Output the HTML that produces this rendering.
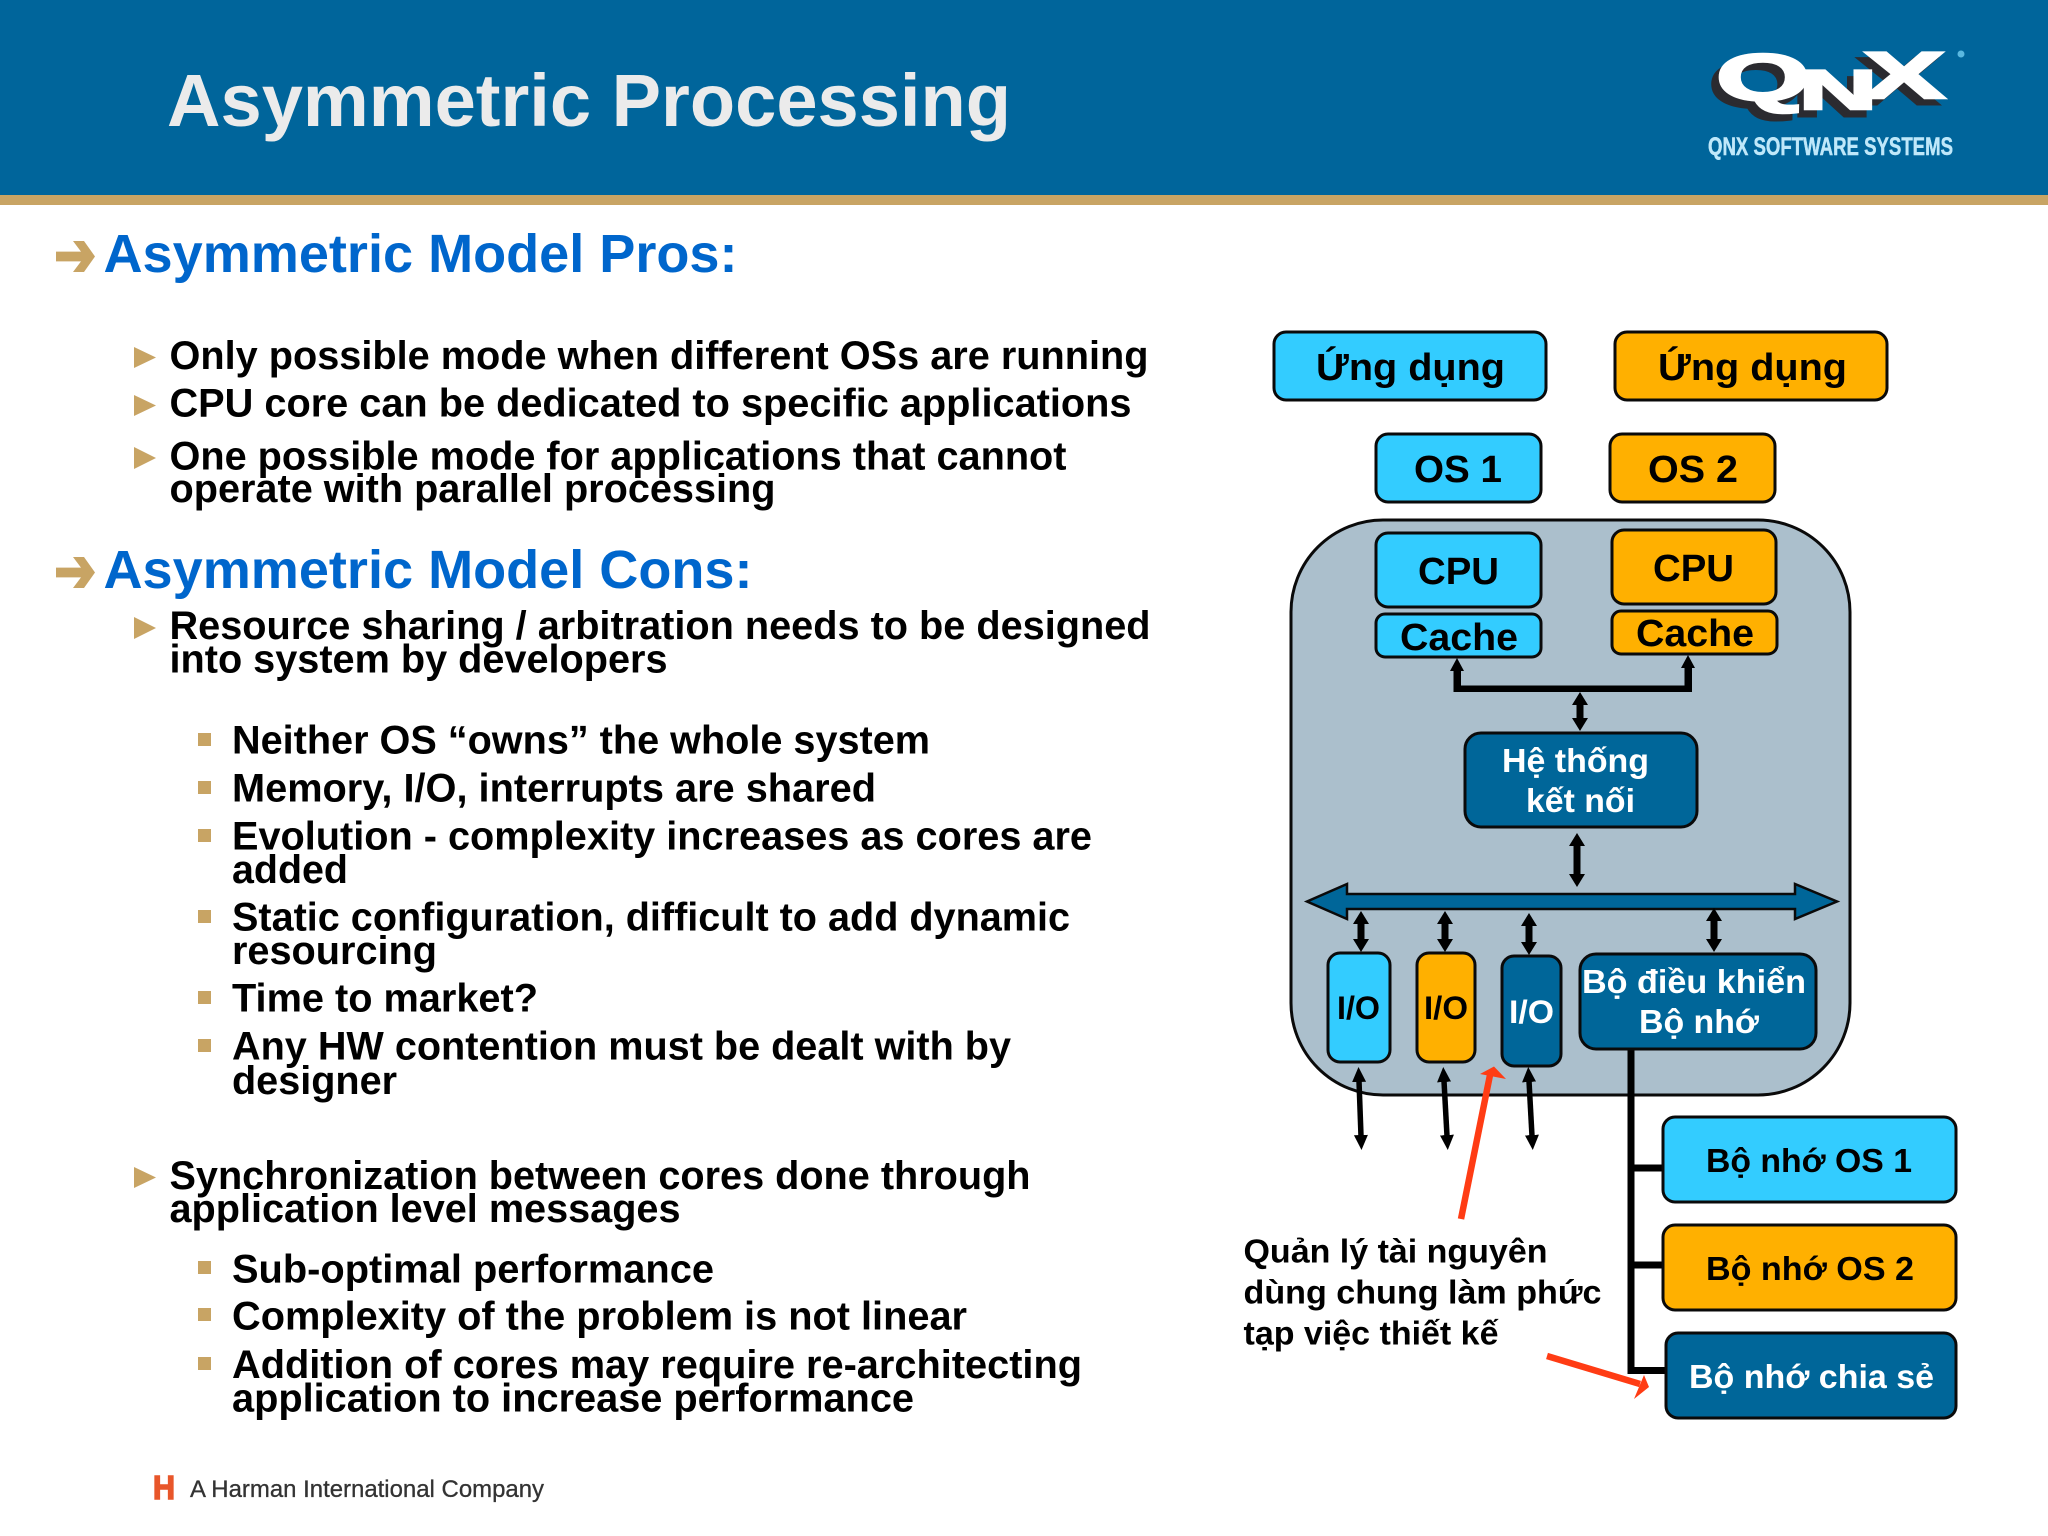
<!DOCTYPE html>
<html lang="en">
<head>
<meta charset="utf-8">
<title>Asymmetric Processing</title>
<style>
html,body{margin:0;padding:0;background:#fff;width:2048px;height:1536px;overflow:hidden}
svg{display:block}
text{font-family:"Liberation Sans","Noto Sans CJK SC",sans-serif;font-weight:bold}
.b{font-size:39.6px;fill:#000}
.h{font-size:53.5px;fill:#0066cc}
.d{font-size:38px;fill:#000}
.w{font-size:33.7px;fill:#fff}
.k{font-size:33.7px;fill:#000}
.box{stroke:#0a0a0a;stroke-width:3}
.cy{fill:#33ccff}.or{fill:#ffb000}.dk{fill:#006699}
.gold{fill:#c8a464}
.ln{stroke:#000;stroke-width:7;fill:none;marker-start:url(#ah);marker-end:url(#ah)}
.lo{stroke:#000;stroke-width:5.5;fill:none;marker-start:url(#ah2);marker-end:url(#ah2)}
</style>
</head>
<body>
<svg xmlns="http://www.w3.org/2000/svg" width="2048" height="1536" viewBox="0 0 2048 1536">
<defs>
<marker id="ah" markerUnits="userSpaceOnUse" markerWidth="13" markerHeight="16" refX="1" refY="8" orient="auto-start-reverse"><path d="M0,0L13,8L0,16z" fill="#000"/></marker>
<marker id="ah2" markerUnits="userSpaceOnUse" markerWidth="15" markerHeight="14" refX="1" refY="7" orient="auto-start-reverse"><path d="M0,0L15,7L0,14z" fill="#000"/></marker>
<symbol id="garrow" viewBox="0 0 39 32" preserveAspectRatio="none"><path d="M17,0H28L39,16L28,32H17L25,21H0V11H25z" fill="#c8a464"/></symbol>
</defs>

<!-- header -->
<rect x="0" y="0" width="2048" height="195" fill="#00659b"/>
<rect x="0" y="195" width="2048" height="10" fill="#c8a464"/>
<text x="167" y="126" font-size="74" fill="#ebebeb" textLength="844" lengthAdjust="spacingAndGlyphs">Asymmetric Processing</text>

<!-- logo -->
<g stroke="#2b2b30" stroke-width="3">
<text x="1709" y="107" font-size="66" fill="#2b2b30" textLength="94" lengthAdjust="spacingAndGlyphs">Q</text>
<text x="1793" y="116" font-size="56" fill="#2b2b30" textLength="78" lengthAdjust="spacingAndGlyphs">N</text>
<text x="1856" y="104" font-size="66" fill="#2b2b30" textLength="82" lengthAdjust="spacingAndGlyphs">X</text>
</g>
<g stroke="#fff" stroke-width="2.5">
<text x="1716" y="100" font-size="66" fill="#fff" textLength="94" lengthAdjust="spacingAndGlyphs">Q</text>
<text x="1799" y="109" font-size="56" fill="#fff" textLength="78" lengthAdjust="spacingAndGlyphs">N</text>
<text x="1863" y="98" font-size="66" fill="#fff" textLength="82" lengthAdjust="spacingAndGlyphs">X</text>
</g>
<circle cx="1961" cy="54" r="3.5" fill="#5ab8e0"/>
<text x="1708" y="155" font-size="25" fill="#bfe8fa" stroke="#bfe8fa" stroke-width=".5" textLength="245" lengthAdjust="spacingAndGlyphs">QNX SOFTWARE SYSTEMS</text>

<!-- left column -->
<use href="#garrow" x="56" y="241" width="39" height="31"/>
<text class="h" x="103.5" y="272" textLength="634" lengthAdjust="spacingAndGlyphs">Asymmetric Model Pros:</text>

<path class="gold" d="M134,347L156,357.5L134,368z"/>
<text class="b" x="169.5" y="369" textLength="979" lengthAdjust="spacingAndGlyphs">Only possible mode when different OSs are running</text>
<path class="gold" d="M134,395L156,405.5L134,416z"/>
<text class="b" x="169.5" y="416.5" textLength="962" lengthAdjust="spacingAndGlyphs">CPU core can be dedicated to specific applications</text>
<path class="gold" d="M134,447L156,458L134,469z"/>
<text class="b" x="169.5" y="469.5" textLength="897" lengthAdjust="spacingAndGlyphs">One possible mode for applications that cannot</text>
<text class="b" x="169.5" y="502" textLength="606" lengthAdjust="spacingAndGlyphs">operate with parallel processing</text>

<use href="#garrow" x="56" y="557" width="39" height="31"/>
<text class="h" x="103.5" y="588" textLength="649" lengthAdjust="spacingAndGlyphs">Asymmetric Model Cons:</text>

<path class="gold" d="M134,617L156,628L134,639z"/>
<text class="b" x="169.5" y="639" textLength="981" lengthAdjust="spacingAndGlyphs">Resource sharing / arbitration needs to be designed</text>
<text class="b" x="169.5" y="672.5" textLength="498" lengthAdjust="spacingAndGlyphs">into system by developers</text>

<rect class="gold" x="198" y="733" width="13" height="13"/>
<text class="b" x="232" y="753.5" textLength="698" lengthAdjust="spacingAndGlyphs">Neither OS “owns” the whole system</text>
<rect class="gold" x="198" y="781" width="13" height="13"/>
<text class="b" x="232" y="801.5" textLength="644" lengthAdjust="spacingAndGlyphs">Memory, I/O, interrupts are shared</text>
<rect class="gold" x="198" y="829" width="13" height="13"/>
<text class="b" x="232" y="849.5" textLength="860" lengthAdjust="spacingAndGlyphs">Evolution - complexity increases as cores are</text>
<text class="b" x="232" y="883" textLength="116" lengthAdjust="spacingAndGlyphs">added</text>
<rect class="gold" x="198" y="910" width="13" height="13"/>
<text class="b" x="232" y="930.5" textLength="838" lengthAdjust="spacingAndGlyphs">Static configuration, difficult to add dynamic</text>
<text class="b" x="232" y="964" textLength="205" lengthAdjust="spacingAndGlyphs">resourcing</text>
<rect class="gold" x="198" y="991" width="13" height="13"/>
<text class="b" x="232" y="1011.5" textLength="306" lengthAdjust="spacingAndGlyphs">Time to market?</text>
<rect class="gold" x="198" y="1039" width="13" height="13"/>
<text class="b" x="232" y="1059.5" textLength="779" lengthAdjust="spacingAndGlyphs">Any HW contention must be dealt with by</text>
<text class="b" x="232" y="1094" textLength="165" lengthAdjust="spacingAndGlyphs">designer</text>

<path class="gold" d="M134,1167L156,1177.5L134,1188z"/>
<text class="b" x="169.5" y="1189" textLength="861" lengthAdjust="spacingAndGlyphs">Synchronization between cores done through</text>
<text class="b" x="169.5" y="1222" textLength="511" lengthAdjust="spacingAndGlyphs">application level messages</text>

<rect class="gold" x="198" y="1261" width="13" height="13"/>
<text class="b" x="232" y="1282.5" textLength="482" lengthAdjust="spacingAndGlyphs">Sub-optimal performance</text>
<rect class="gold" x="198" y="1308" width="13" height="13"/>
<text class="b" x="232" y="1329.5" textLength="735" lengthAdjust="spacingAndGlyphs">Complexity of the problem is not linear</text>
<rect class="gold" x="198" y="1357" width="13" height="13"/>
<text class="b" x="232" y="1378" textLength="850" lengthAdjust="spacingAndGlyphs">Addition of cores may require re-architecting</text>
<text class="b" x="232" y="1411.5" textLength="682" lengthAdjust="spacingAndGlyphs">application to increase performance</text>

<!-- footer -->
<text x="153" y="1499" font-size="33" fill="#e8562a" stroke="#e8562a" stroke-width="1.5" textLength="22" lengthAdjust="spacingAndGlyphs">H</text>
<text x="190" y="1497" font-size="24" fill="#333" stroke="#333" stroke-width=".3" style="font-weight:normal" textLength="354" lengthAdjust="spacingAndGlyphs">A Harman International Company</text>

<!-- diagram -->
<rect class="box" x="1291" y="520" width="559" height="575" rx="92" ry="92" fill="#abbfcc"/>

<rect class="box cy" x="1274" y="332" width="272" height="68" rx="12"/>
<text class="d" x="1316" y="380" textLength="189" lengthAdjust="spacingAndGlyphs">Ứng dụng</text>
<rect class="box or" x="1615" y="332" width="272" height="68" rx="12"/>
<text class="d" x="1658" y="380" textLength="189" lengthAdjust="spacingAndGlyphs">Ứng dụng</text>

<rect class="box cy" x="1376" y="434" width="165" height="68" rx="12"/>
<text class="d" x="1414" y="482" textLength="88" lengthAdjust="spacingAndGlyphs">OS 1</text>
<rect class="box or" x="1610" y="434" width="165" height="68" rx="12"/>
<text class="d" x="1648" y="482" textLength="90" lengthAdjust="spacingAndGlyphs">OS 2</text>

<rect class="box cy" x="1376" y="533" width="165" height="74" rx="12"/>
<text class="d" x="1418" y="584" textLength="81" lengthAdjust="spacingAndGlyphs">CPU</text>
<rect class="box cy" x="1376" y="614" width="165" height="43" rx="9"/>
<text class="d" x="1400" y="650" textLength="118" lengthAdjust="spacingAndGlyphs">Cache</text>
<rect class="box or" x="1612" y="530" width="164" height="74" rx="12"/>
<text class="d" x="1653" y="581" textLength="81" lengthAdjust="spacingAndGlyphs">CPU</text>
<rect class="box or" x="1612" y="611" width="165" height="43" rx="9"/>
<text class="d" x="1636" y="646" textLength="118" lengthAdjust="spacingAndGlyphs">Cache</text>

<!-- cache bus -->
<path d="M1453.5,692V671H1450L1457,658L1464,671H1461V685.5H1684.5V668H1681L1688,655L1695,668H1692V692z" fill="#000"/>
<line class="ln" x1="1580" y1="704" x2="1580" y2="719"/>

<rect class="box dk" x="1465" y="733" width="232" height="94" rx="16"/>
<text class="w" x="1502" y="772" textLength="147" lengthAdjust="spacingAndGlyphs">Hệ thống</text>
<text class="w" x="1526" y="812" textLength="109" lengthAdjust="spacingAndGlyphs">kết nối</text>

<line class="ln" x1="1577" y1="845" x2="1577" y2="875"/>

<!-- main bus -->
<path class="dk" d="M1307,901.5L1347,884V894H1795V884L1837,901.5L1795,919V909H1347V919z" stroke="#0a0a0a" stroke-width="2.5"/>

<line class="ln" x1="1361" y1="923" x2="1361" y2="940"/>
<line class="ln" x1="1445" y1="923" x2="1445" y2="940"/>
<line class="ln" x1="1529" y1="925" x2="1529" y2="943"/>
<line class="ln" x1="1714" y1="920" x2="1714" y2="940"/>

<rect class="box cy" x="1328" y="953" width="62" height="109" rx="12"/>
<text class="k" x="1337" y="1019" style="font-size:32px" textLength="43" lengthAdjust="spacingAndGlyphs">I/O</text>
<rect class="box or" x="1417" y="953" width="58" height="109" rx="12"/>
<text class="k" x="1424" y="1019" style="font-size:32px" textLength="44" lengthAdjust="spacingAndGlyphs">I/O</text>
<rect class="box dk" x="1502" y="956" width="59" height="110" rx="12"/>
<text class="w" x="1509" y="1023" style="font-size:32px" textLength="45" lengthAdjust="spacingAndGlyphs">I/O</text>

<!-- memory trunk -->
<path d="M1631,1049V1370.5H1666M1631,1168H1663M1631,1265H1663" fill="none" stroke="#000" stroke-width="7"/>

<rect class="box dk" x="1580" y="954" width="236" height="95" rx="16"/>
<text class="w" x="1582" y="993" textLength="224" lengthAdjust="spacingAndGlyphs">Bộ điều khiển</text>
<text class="w" x="1639" y="1033" textLength="120" lengthAdjust="spacingAndGlyphs">Bộ nhớ</text>

<line class="lo" x1="1359" y1="1081" x2="1361" y2="1136"/>
<line class="lo" x1="1444" y1="1081" x2="1447" y2="1136"/>
<line class="lo" x1="1529" y1="1081" x2="1532" y2="1136"/>

<rect class="box cy" x="1663" y="1117" width="293" height="85" rx="12"/>
<text class="k" x="1706" y="1172" textLength="206" lengthAdjust="spacingAndGlyphs">Bộ nhớ OS 1</text>
<rect class="box or" x="1663" y="1225" width="293" height="85" rx="12"/>
<text class="k" x="1706" y="1280" textLength="208" lengthAdjust="spacingAndGlyphs">Bộ nhớ OS 2</text>
<rect class="box dk" x="1666" y="1333" width="290" height="85" rx="12"/>
<text class="w" x="1689" y="1388" textLength="245" lengthAdjust="spacingAndGlyphs">Bộ nhớ chia sẻ</text>

<!-- red arrows -->
<line x1="1461" y1="1219" x2="1490" y2="1075" stroke="#ff3c14" stroke-width="6.5"/>
<path d="M1494,1066.5L1506,1079L1480,1074z" fill="#ff3c14"/>
<line x1="1547" y1="1356" x2="1640" y2="1384" stroke="#ff3c14" stroke-width="6.5"/>
<path d="M1649,1387L1634,1399L1644,1375z" fill="#ff3c14"/>

<text class="k" x="1243.5" y="1262.5" textLength="304" lengthAdjust="spacingAndGlyphs">Quản lý tài nguyên</text>
<text class="k" x="1243.5" y="1303.5" textLength="358" lengthAdjust="spacingAndGlyphs">dùng chung làm phức</text>
<text class="k" x="1243.5" y="1344.5" textLength="255" lengthAdjust="spacingAndGlyphs">tạp việc thiết kế</text>
</svg>
</body>
</html>
